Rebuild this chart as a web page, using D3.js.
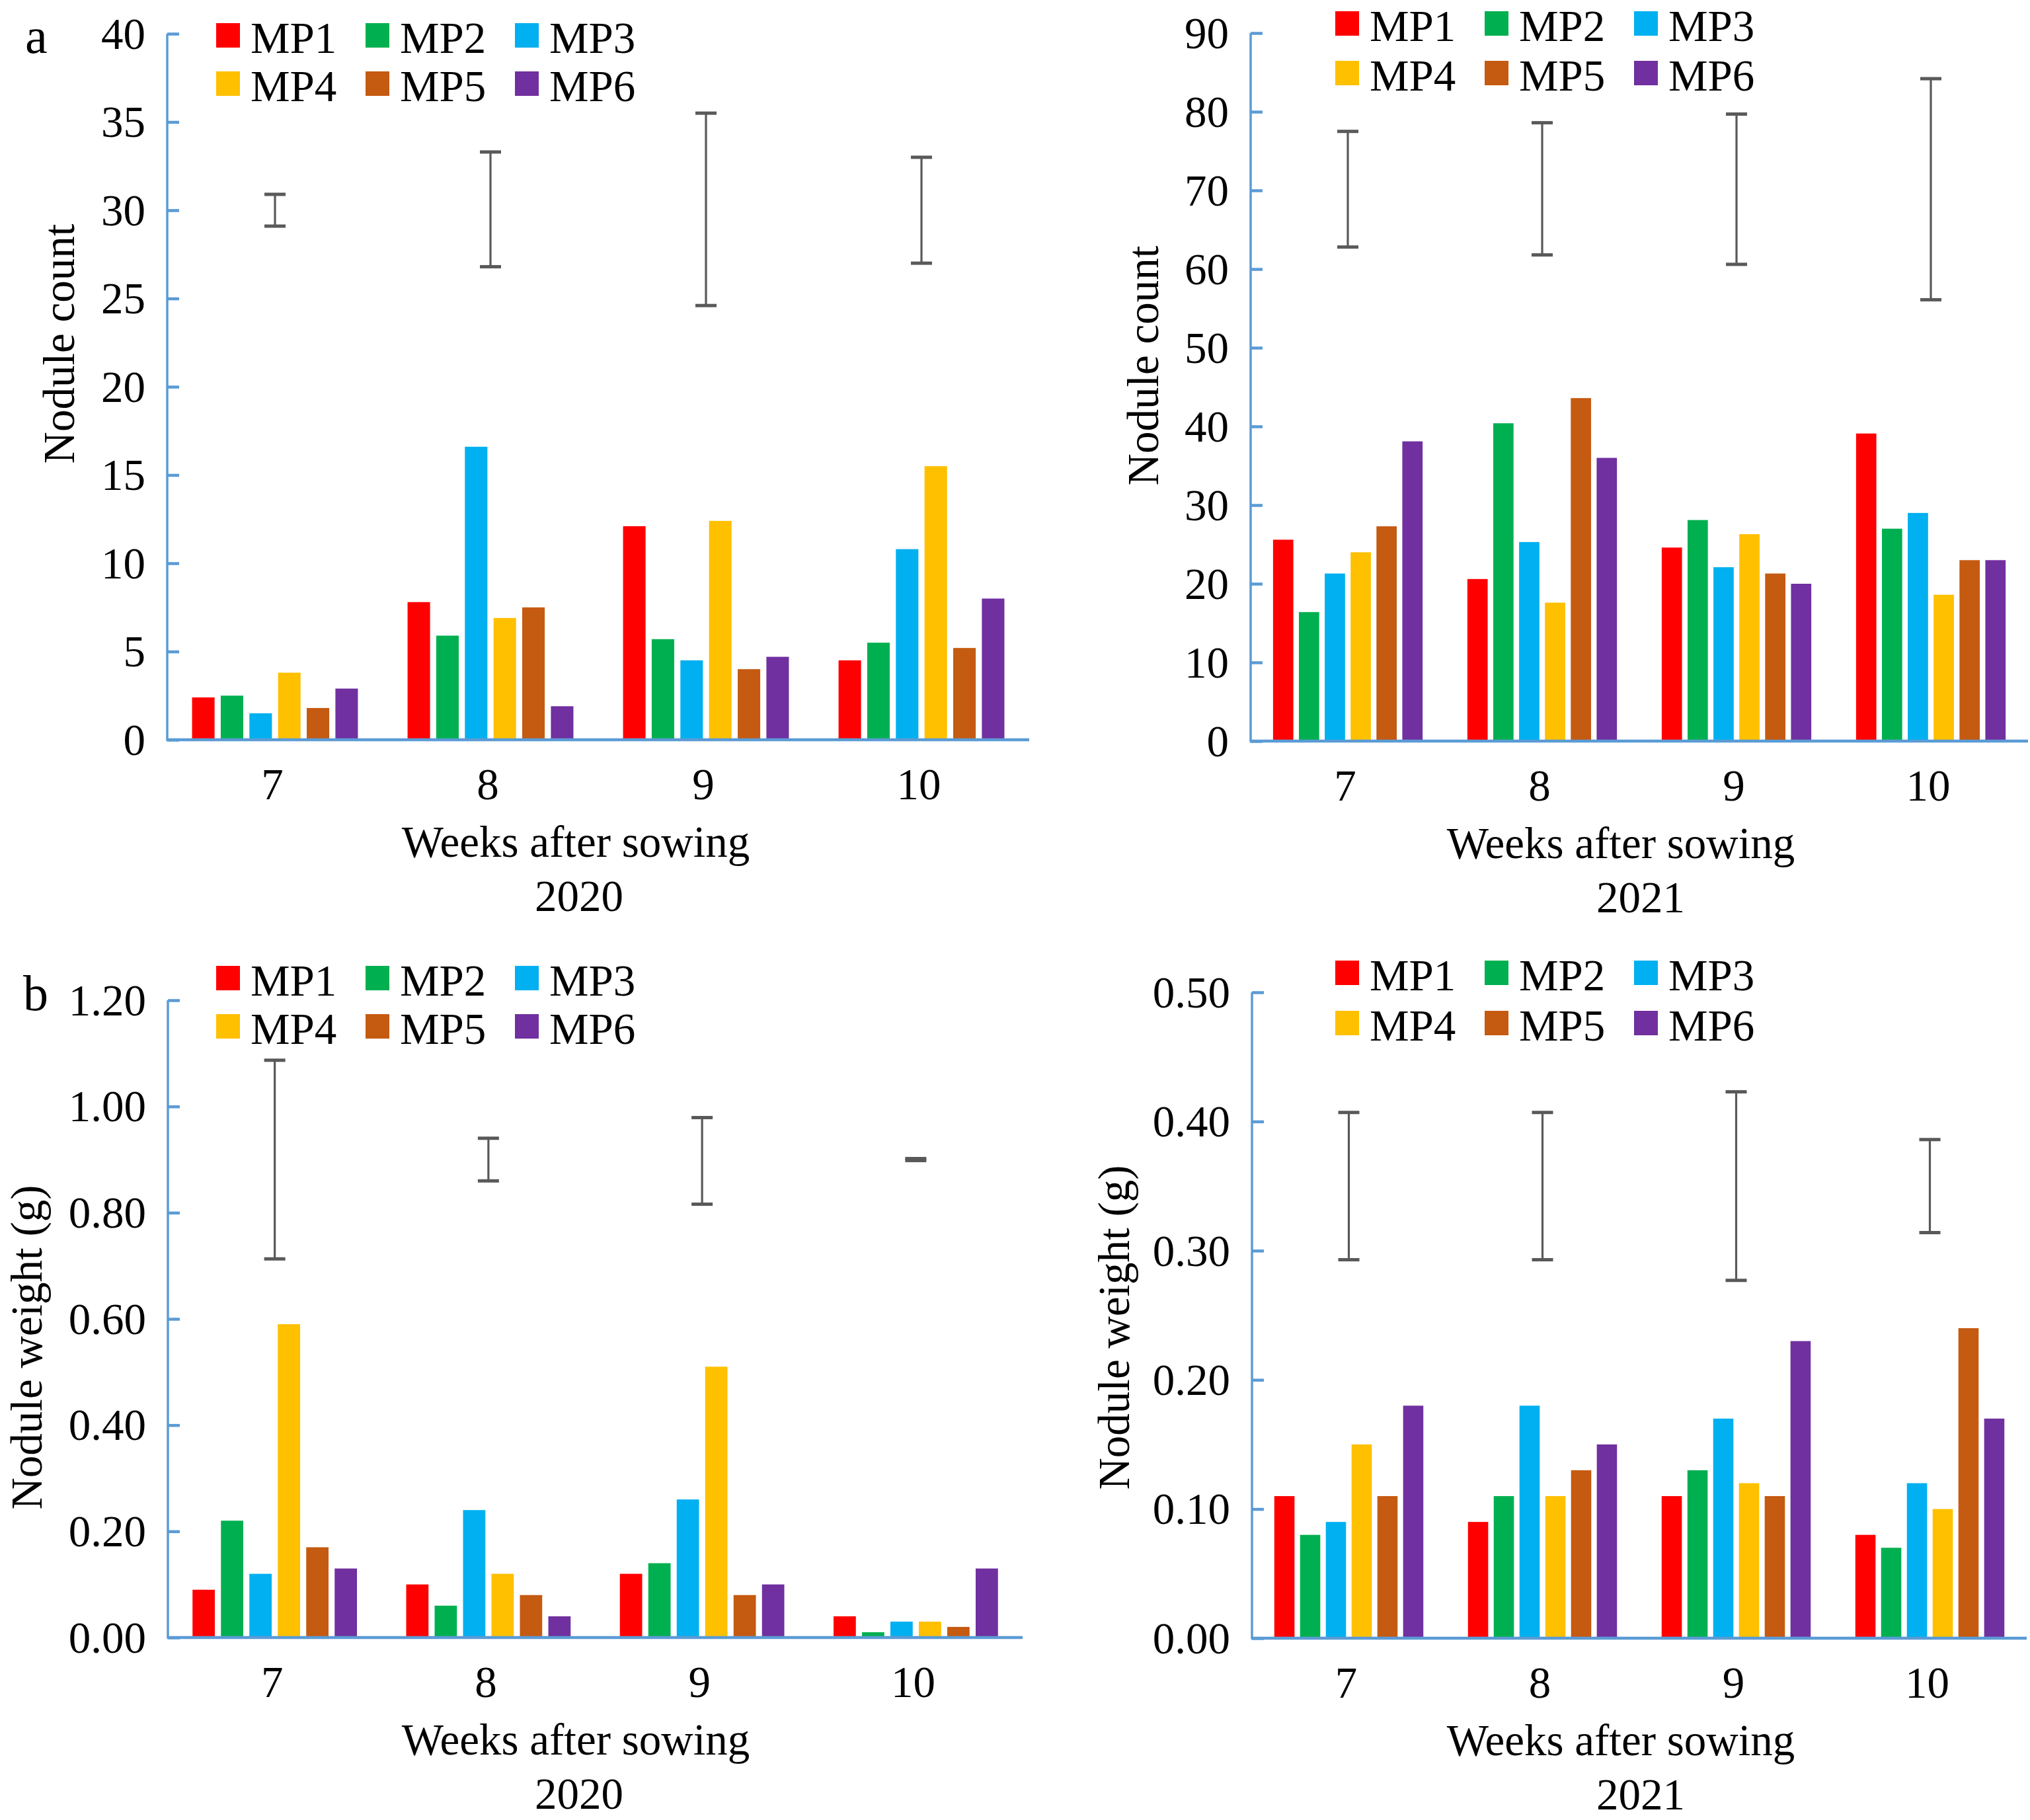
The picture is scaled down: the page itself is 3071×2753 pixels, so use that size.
<!DOCTYPE html>
<html>
<head>
<meta charset="utf-8">
<script src="https://cdn.jsdelivr.net/npm/d3@7"></script>
<style>
  html, body { margin: 0; padding: 0; background: #ffffff; }
  svg { display: block; }
  text { font-family: "Liberation Serif", "Times New Roman", serif; fill: #000; }
</style>
</head>
<body>
<svg id="chart" width="3071" height="2753"></svg>
<script>
// ---------- data ----------
const weeks = ["7", "8", "9", "10"];
const series = ["MP1", "MP2", "MP3", "MP4", "MP5", "MP6"];
const seriesColors = ["#FF0000", "#00B050", "#00B0F0", "#FFC000", "#C55A11", "#7030A0"];

// nodule count 2020 (rows = weeks, cols = MP1..MP6)
const count2020 = [
  [2.4, 2.5, 1.5, 3.8, 1.8, 2.9],
  [7.8, 5.9, 16.6, 6.9, 7.5, 1.9],
  [12.1, 5.7, 4.5, 12.4, 4.0, 4.7],
  [4.5, 5.5, 10.8, 15.5, 5.2, 8.0]
];
const countErrLow2020  = [29.1, 26.8, 24.6, 27.0];
const countErrHigh2020 = [30.9, 33.3, 35.5, 33.0];

// nodule count 2021
const count2021 = [
  [25.6, 16.4, 21.3, 24.0, 27.3, 38.1],
  [20.6, 40.4, 25.3, 17.6, 43.6, 36.0],
  [24.6, 28.1, 22.1, 26.3, 21.3, 20.0],
  [39.1, 27.0, 29.0, 18.6, 23.0, 23.0]
];
const countErrLow2021  = [62.8, 61.8, 60.6, 56.1];
const countErrHigh2021 = [77.5, 78.6, 79.7, 84.2];

// nodule weight 2020
const weight2020 = [
  [0.09, 0.22, 0.12, 0.59, 0.17, 0.13],
  [0.10, 0.06, 0.24, 0.12, 0.08, 0.04],
  [0.12, 0.14, 0.26, 0.51, 0.08, 0.10],
  [0.04, 0.01, 0.03, 0.03, 0.02, 0.13]
];
const weightErrLow2020  = [0.713, 0.860, 0.816, 0.898];
const weightErrHigh2020 = [1.087, 0.940, 0.979, 0.902];

// nodule weight 2021
const weight2021 = [
  [0.11, 0.08, 0.09, 0.15, 0.11, 0.18],
  [0.09, 0.11, 0.18, 0.11, 0.13, 0.15],
  [0.11, 0.13, 0.17, 0.12, 0.11, 0.23],
  [0.08, 0.07, 0.12, 0.10, 0.24, 0.17]
];
const weightErrLow2021  = [0.293, 0.293, 0.277, 0.314];
const weightErrHigh2021 = [0.407, 0.407, 0.423, 0.386];

const countTicks2020 = [0, 5, 10, 15, 20, 25, 30, 35, 40];
const countTicks2021 = [0, 10, 20, 30, 40, 50, 60, 70, 80, 90];
const weightTicks2020 = [0, 0.2, 0.4, 0.6, 0.8, 1.0, 1.2];
const weightTicks2021 = [0, 0.1, 0.2, 0.3, 0.4, 0.5];

// ---------- layout ----------
const FONT = 67;
const AXIS_COLOR = "#5B9BD5";
const ERR_COLOR = "#595959";

const panels = [
  { data: count2020, lo: countErrLow2020, hi: countErrHigh2020, ticks: countTicks2020, fmt: d3.format("d"),
    x0: 253, x1: 1557, yTop: 51, yBot: 1119, yTitle: "Nodule count", yTitleX: 112, yTitleY: 520,
    year: "2020", xTitleX: 871, yearX: 876, legX: 327, legY: 35, legDy: 73, letter: "a", letterX: 38, letterY: 80 },
  { data: count2021, lo: countErrLow2021, hi: countErrHigh2021, ticks: countTicks2021, fmt: d3.format("d"),
    x0: 1892, x1: 3068, yTop: 50, yBot: 1121, yTitle: "Nodule count", yTitleX: 1752, yTitleY: 553,
    year: "2021", xTitleX: 2452, yearX: 2482, legX: 2020, legY: 17, legDy: 75 },
  { data: weight2020, lo: weightErrLow2020, hi: weightErrHigh2020, ticks: weightTicks2020, fmt: d3.format(".2f"),
    x0: 254, x1: 1547, yTop: 1513, yBot: 2477, yTitle: "Nodule weight (g)", yTitleX: 63, yTitleY: 2038,
    year: "2020", xTitleX: 871, yearX: 876, legX: 327, legY: 1461, legDy: 73, letter: "b", letterX: 35, letterY: 1528 },
  { data: weight2021, lo: weightErrLow2021, hi: weightErrHigh2021, ticks: weightTicks2021, fmt: d3.format(".2f"),
    x0: 1894, x1: 3066, yTop: 1501, yBot: 2478, yTitle: "Nodule weight (g)", yTitleX: 1708, yTitleY: 2008,
    year: "2021", xTitleX: 2452, yearX: 2482, legX: 2020, legY: 1453, legDy: 76 }
];

const svg = d3.select("#chart");

panels.forEach(p => {
  const g = svg.append("g");
  const yMax = p.ticks[p.ticks.length - 1];
  const y = d3.scaleLinear().domain([0, yMax]).range([p.yBot, p.yTop]);
  const x = d3.scaleBand().domain(weeks).range([p.x0, p.x1]).paddingInner(0).paddingOuter(0);
  const xs = d3.scaleBand().domain(series).range([0, x.bandwidth()]).paddingInner(0.215).paddingOuter(0.866);

  // bars
  const groups = g.selectAll("g.grp").data(weeks).join("g")
    .attr("transform", d => `translate(${x(d)},0)`);
  groups.each(function(w, wi) {
    d3.select(this).selectAll("rect").data(p.data[wi]).join("rect")
      .attr("x", (v, si) => xs(series[si]))
      .attr("width", xs.bandwidth())
      .attr("y", v => y(v))
      .attr("height", v => y(0) - y(v))
      .attr("fill", (v, si) => seriesColors[si]);
  });

  // error bars
  const capW = 32;
  weeks.forEach((w, wi) => {
    const cx = x(w) + x.bandwidth() / 2;
    const yl = y(p.lo[wi]), yh = y(p.hi[wi]);
    g.append("line").attr("x1", cx).attr("x2", cx).attr("y1", yh).attr("y2", yl)
      .attr("stroke", ERR_COLOR).attr("stroke-width", 3.2);
    [yl, yh].forEach(yy => {
      g.append("line").attr("x1", cx - capW / 2).attr("x2", cx + capW / 2).attr("y1", yy).attr("y2", yy)
        .attr("stroke", ERR_COLOR).attr("stroke-width", 5);
    });
  });

  // y axis
  const yAxis = d3.axisRight(y).tickValues(p.ticks).tickSize(18).tickFormat("");
  const ya = g.append("g").attr("transform", `translate(${p.x0},0)`).call(yAxis);
  ya.select(".domain").attr("stroke", AXIS_COLOR).attr("stroke-width", 3.5)
    .attr("d", `M0,${y(0)}V${y(yMax)}`);
  ya.selectAll(".tick line").attr("stroke", AXIS_COLOR).attr("stroke-width", 4.5);
  // tick labels
  g.selectAll("text.ytl").data(p.ticks).join("text")
    .attr("class", "ytl")
    .attr("x", p.x0 - 33)
    .attr("y", d => y(d))
    .attr("dy", "0.34em")
    .attr("text-anchor", "end")
    .attr("font-size", FONT)
    .text(d => p.fmt(d));

  // x axis
  const xAxis = d3.axisBottom(x).tickSize(0).tickPadding(0).tickFormat("");
  const xa = g.append("g").attr("transform", `translate(0,${y(0)})`).call(xAxis);
  xa.select(".domain").attr("stroke", AXIS_COLOR).attr("stroke-width", 4.5)
    .attr("d", `M${p.x0 - 1.5},0H${p.x1}`);
  g.selectAll("text.xtl").data(weeks).join("text")
    .attr("class", "xtl")
    .attr("x", d => x(d) + x.bandwidth() / 2 - 4)
    .attr("y", y(0) + 90)
    .attr("text-anchor", "middle")
    .attr("font-size", FONT)
    .text(d => d);

  // titles
  g.append("text").attr("x", p.xTitleX).attr("y", y(0) + 177)
    .attr("text-anchor", "middle").attr("font-size", FONT).text("Weeks after sowing");
  g.append("text").attr("x", p.yearX).attr("y", y(0) + 259)
    .attr("text-anchor", "middle").attr("font-size", FONT).text(p.year);
  g.append("text")
    .attr("transform", `translate(${p.yTitleX},${p.yTitleY}) rotate(-90)`)
    .attr("text-anchor", "middle").attr("font-size", FONT).text(p.yTitle);

  // legend
  const colW = 226;
  series.forEach((s, si) => {
    const cx = p.legX + (si % 3) * colW;
    const cy = p.legY + Math.floor(si / 3) * p.legDy;
    g.append("rect").attr("x", cx).attr("y", cy).attr("width", 36).attr("height", 37)
      .attr("fill", seriesColors[si]);
    g.append("text").attr("x", cx + 52).attr("y", cy + 45)
      .attr("font-size", FONT).text(s);
  });

  if (p.letter) {
    g.append("text").attr("x", p.letterX).attr("y", p.letterY)
      .attr("font-size", 76).text(p.letter);
  }
});
</script>
</body>
</html>
